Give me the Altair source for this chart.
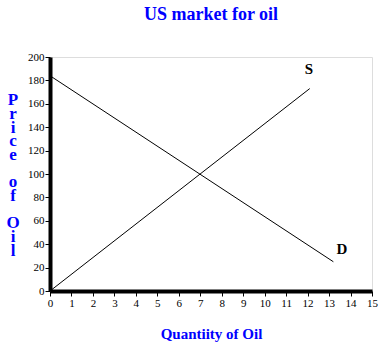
import altair as alt
import pandas as pd

supply_q = [0, 12.1]
supply_p = [0, 173]
demand_q = [0, 13.2]
demand_p = [184, 25]
label_text = ["S", "D"]
label_q = [12.06, 13.6]
label_p = [190, 36]
x_ticks = list(range(0, 16))
y_ticks = list(range(0, 201, 20))
y_title = ["P", "r", "i", "c", "e", "", "o", "f", "", "O", "i", "l"]

lines = pd.DataFrame({
    "q": supply_q + demand_q,
    "p": supply_p + demand_p,
    "curve": ["S", "S", "D", "D"],
})
labels = pd.DataFrame({"q": label_q, "p": label_p, "t": label_text})
letters = pd.DataFrame({"row": list(range(len(y_title))), "ch": y_title})

serif = "Liberation Serif"
blue = "#0000FF"

x = alt.X("q:Q", scale=alt.Scale(domain=[0, 15], nice=False),
          axis=alt.Axis(values=x_ticks, title="Quantiity of Oil", grid=False,
                        titleFont=serif, titleFontSize=15, titleFontWeight="bold",
                        titleColor=blue, titlePadding=18,
                        labelFont=serif, labelFontSize=11, labelColor="black",
                        labelOverlap=False, labelFlush=False,
                        domainColor="black", domainWidth=4, tickColor="black",
                        tickSize=5, tickWidth=1, labelPadding=1))
y = alt.Y("p:Q", scale=alt.Scale(domain=[0, 200], nice=False),
          axis=alt.Axis(values=y_ticks, grid=False, title=None,
                        labelFont=serif, labelFontSize=11, labelColor="black",
                        labelOverlap=False, labelFlush=False,
                        domainColor="black", domainWidth=4, tickColor="black",
                        tickSize=5, tickWidth=1, labelPadding=1))

line_chart = alt.Chart(lines).mark_line(color="black", strokeWidth=1).encode(
    x=x, y=y, detail="curve:N")
text_chart = alt.Chart(labels).mark_text(font=serif, fontSize=15, fontWeight="bold",
                                         color="black").encode(
    x=x, y=y, text="t:N")
inner = alt.layer(line_chart, text_chart)
letter_chart = alt.Chart(letters).mark_text(
    font=serif, fontSize=17, fontWeight="bold", color=blue,
    baseline="alphabetic", align="center").encode(
    x=alt.value(-37),
    y=alt.Y("row:O", scale=alt.Scale(type="point", range=[41.3, 205.7]), axis=None),
    text="ch:N")

chart = alt.layer(inner, letter_chart).resolve_scale(
    y="independent"
).properties(
    width=322, height=234,
    title=alt.TitleParams("US market for oil", font=serif, fontSize=18,
                          fontWeight="bold", color=blue, anchor="middle", offset=27),
    autosize=alt.AutoSizeParams(type="none"),
    padding={"left": 50, "top": 57, "right": 12, "bottom": 60},
).configure_view(stroke=None).configure(background="white")

chart.save("out.html", embed_options={"renderer": "svg", "actions": False})
